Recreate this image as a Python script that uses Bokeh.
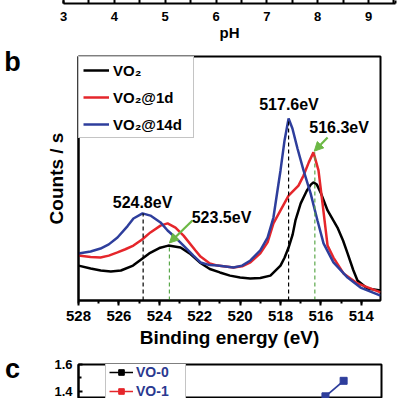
import numpy as np
from bokeh.plotting import figure
from bokeh.models import (Range1d, SingleIntervalTicker, FixedTicker, Arrow, Plot,
                          NormalHead, Legend, LegendItem, ColumnDataSource, LinearAxis)
from bokeh.layouts import column, row
from bokeh.core.properties import value
from bokeh.embed import file_html
from bokeh.resources import INLINE

FONT = "Liberation Sans"
BLACK = "#000000"
RED = "#e5262b"
BLUE = "#2e3e9c"
GREEN = "#6cb845"
GREEN_DASH = "#5aa84a"

# ---------------- panel a (only its pH axis is visible) ----------------
ph_ticks = [3, 4, 5, 6, 7, 8, 9]
ph_minor_ticks = [3.5, 4.5, 5.5, 6.5, 7.5, 8.5, 9.5]

# ---------------- panel b : XPS V2p spectra ----------------
vo2_e = [528.0, 527.4, 526.9, 526.4, 525.9, 525.3, 524.9, 524.5, 524.0, 523.55,
         522.95, 522.5, 522.0, 521.5, 521.0, 520.5, 520.0, 519.5, 519.0, 518.5,
         518.0, 517.8, 517.6, 517.4, 517.26, 517.0, 516.7, 516.5, 516.37, 516.2,
         516.0, 515.67, 515.4, 515.18, 514.9, 514.68, 514.4, 514.19, 513.7, 513.05]
vo2_c = [14.3, 13.1, 12.3, 11.9, 12.3, 14.3, 16.8, 19.3, 21.5, 22.5,
         21.7, 19.3, 15.6, 12.9, 11.5, 10.2, 9.4, 9.0, 9.2, 10.2,
         14.3, 17.5, 21.7, 27.0, 32.8, 39.8, 45.0, 47.5, 48.4, 47.5,
         44.0, 36.9, 33.0, 29.9, 24.5, 19.3, 12.5, 8.2, 4.9, 4.1]

vo2_1d_e = [528.0, 527.4, 526.91, 526.5, 526.07, 525.68, 525.28, 524.85, 524.44, 523.94,
            523.59, 523.2, 522.8, 522.21, 521.96, 521.5, 521.12, 520.33, 519.9, 519.49,
            519.0, 518.64, 518.35, 518.0, 517.6, 517.11, 516.86, 516.6, 516.37, 516.12,
            515.92, 515.67, 515.38, 514.88, 514.19, 513.05]
vo2_1d_c = [18.4, 17.8, 17.6, 18.4, 19.7, 21.0, 22.5, 25.0, 27.9, 30.7,
            31.6, 29.9, 26.6, 20.5, 18.0, 15.2, 14.3, 13.5, 14.0, 15.6,
            19.3, 23.8, 31.6, 36.9, 43.0, 47.1, 51.2, 56.6, 60.7, 53.3,
            39.8, 22.5, 17.6, 11.1, 7.0, 3.3]

vo2_14d_e = [528.0, 527.4, 526.91, 526.5, 526.07, 525.57, 525.28, 524.83, 524.44, 523.94,
             523.59, 523.2, 522.8, 522.31, 521.96, 521.5, 521.12, 520.33, 519.9, 519.49,
             519.0, 518.64, 518.35, 518.15, 518.0, 517.8, 517.6, 517.41, 517.16, 516.86,
             516.51, 516.17, 515.87, 515.38, 514.68, 514.04, 513.05]
vo2_14d_c = [19.3, 20.1, 21.3, 23.0, 25.8, 30.5, 33.6, 35.7, 34.8, 32.0,
             28.7, 25.8, 22.5, 18.4, 15.6, 14.5, 14.3, 13.5, 14.3, 16.4,
             20.5, 25.8, 34.0, 45.1, 53.3, 65.6, 74.6, 70.5, 62.3, 53.3,
             43.9, 32.8, 23.4, 15.6, 9.4, 5.3, 2.0]

# marked peak positions (black dashed: VO2@14d peaks, green dashed: VO2 / VO2@1d peaks)
black_peak_e = [524.8, 517.6]
black_peak_top = [35.7, 74.6]
green_peak_e = [523.5, 516.3]
green_peak_top = [22.5, 60.7]

peak_label_text = ["524.8eV", "523.5eV", "517.6eV", "516.3eV"]
peak_label_e = [524.83, 520.92, 517.58, 515.1]
peak_label_c = [40.2, 34.0, 80.3, 70.7]

arrow_x0 = [522.36, 515.67]
arrow_y0 = [32.8, 66.8]
arrow_x1 = [523.5, 516.33]
arrow_y1 = [23.6, 61.2]

# ---------------- panel c (only its top is visible) ----------------
c_ticks = [1.4, 1.6]
c_minor = [1.5]
vo0_x = [np.nan]          # VO-0 / VO-1 points lie below the visible part
vo0_y = [np.nan]
vo1_x = [np.nan]
vo1_y = [np.nan]
vo2_series_x = [9.78, 10.5]
vo2_series_y = [1.364, 1.479]

# panel letters
panel_letters = ["b", "c"]

W = 398
LW = 22   # width of the strip carrying the panel letter
HAS_FA = "frame_align" in Plot.properties()


def style_common(p):
    p.background_fill_color = "white"
    p.border_fill_color = "white"
    p.grid.visible = False
    if HAS_FA:
        p.frame_align = False


def letter_strip(letter, height, y_from_top):
    f = figure(width=LW, height=height, x_range=Range1d(0, LW), y_range=Range1d(height, 0),
               output_backend="svg", toolbar_location=None, min_border=0,
               x_axis_location=None, y_axis_location=None)
    style_common(f)
    f.outline_line_color = None
    f.text(x=[12], y=[y_from_top], text=[letter], text_font=value(FONT),
           text_font_style="bold", text_font_size="27px", text_align="center",
           text_baseline="middle", text_color="black")
    return f


# ===== panel a =====
if HAS_FA:
    a_left, a_right, a_range = 63, 3, (3, 9.531)
else:
    a_left, a_right, a_range = 78, 18, (2.705, 9.236)
pa = figure(width=W, height=48, x_range=Range1d(*a_range), y_range=Range1d(0, 1),
            output_backend="svg", toolbar_location=None,
            min_border_left=a_left, min_border_right=a_right, min_border_top=0,
            min_border_bottom=45)
style_common(pa)
pa.outline_line_color = None
ax = pa.xaxis[0]
ax.ticker = FixedTicker(ticks=ph_ticks, minor_ticks=ph_minor_ticks)
ax.axis_line_width = 2
ax.major_tick_line_width = 2
ax.minor_tick_line_width = 2
ax.major_tick_out = 0
ax.major_tick_in = 6
ax.minor_tick_out = 0
ax.minor_tick_in = 6
ax.major_label_standoff = 8
ax.major_label_text_font = FONT
ax.major_label_text_font_style = "bold"
ax.major_label_text_font_size = "13px"
ax.major_label_text_color = "black"
ax.axis_label = "pH"
ax.axis_label_text_font = FONT
ax.axis_label_text_font_style = "bold"
ax.axis_label_text_font_size = "15px"
ax.axis_label_text_color = "black"
ax.axis_label_standoff = 0
ya = pa.yaxis[0]
ya.ticker = FixedTicker(ticks=[])
ya.axis_line_width = 2
ya.major_label_text_font_size = "0px"
pa.add_layout(LinearAxis(ticker=FixedTicker(ticks=[]), axis_line_width=2,
                         major_label_text_font_size="0px"), "right")

# ===== panel b =====
HB = 302
pb = figure(width=W - LW, height=HB, x_range=Range1d(528, 513.05), y_range=Range1d(0, 100),
            output_backend="svg", toolbar_location=None,
            min_border_left=78 - LW, min_border_right=18, min_border_top=8, min_border_bottom=50)
style_common(pb)
pb.outline_line_color = "black"
pb.outline_line_width = 2

xb = pb.xaxis[0]
xb.ticker = SingleIntervalTicker(interval=2, num_minor_ticks=2)
xb.axis_line_width = 2
xb.major_tick_line_width = 2
xb.minor_tick_line_width = 2
xb.major_tick_in = 0
xb.major_tick_out = 5
xb.minor_tick_in = 0
xb.minor_tick_out = 3
xb.major_label_standoff = 5
xb.major_label_text_font = FONT
xb.major_label_text_font_style = "bold"
xb.major_label_text_font_size = "15px"
xb.major_label_text_color = "black"
xb.axis_label = "Binding energy (eV)"
xb.axis_label_text_font = FONT
xb.axis_label_text_font_style = "bold"
xb.axis_label_text_font_size = "19px"
xb.axis_label_text_color = "black"
xb.axis_label_standoff = 3

yb = pb.yaxis[0]
yb.ticker = FixedTicker(ticks=[])
yb.axis_line_width = 2
yb.major_tick_line_color = None
yb.minor_tick_line_color = None
yb.axis_label = "Counts / s"
yb.axis_label_text_font = FONT
yb.axis_label_text_font_style = "bold"
yb.axis_label_text_font_size = "19px"
yb.axis_label_text_color = "black"
yb.axis_label_standoff = 12

r0 = pb.line(vo2_e, vo2_c, line_color=BLACK, line_width=2.5)
r1 = pb.line(vo2_1d_e, vo2_1d_c, line_color=RED, line_width=2.5)
r2 = pb.line(vo2_14d_e, vo2_14d_c, line_color=BLUE, line_width=2.5)

pb.segment(x0=black_peak_e, y0=[0] * len(black_peak_e), x1=black_peak_e, y1=black_peak_top,
           line_color="black", line_width=1.2, line_dash="4 3")
pb.segment(x0=green_peak_e, y0=[0] * len(green_peak_e), x1=green_peak_e, y1=green_peak_top,
           line_color=GREEN_DASH, line_width=1.2, line_dash="4 3")

arr_src = ColumnDataSource(dict(x0=arrow_x0, y0=arrow_y0, x1=arrow_x1, y1=arrow_y1))
pb.add_layout(Arrow(source=arr_src, x_start="x0", y_start="y0", x_end="x1", y_end="y1",
                    line_color=GREEN, line_width=2.2,
                    end=NormalHead(size=9, fill_color=GREEN, line_color=GREEN)))

pb.text(x=peak_label_e, y=peak_label_c, text=peak_label_text, text_font=value(FONT),
        text_font_style="bold", text_font_size="16px", text_align="center",
        text_baseline="middle", text_color="black")

leg_b = Legend(items=[LegendItem(label="VO₂", renderers=[r0]),
                      LegendItem(label="VO₂@1d", renderers=[r1]),
                      LegendItem(label="VO₂@14d", renderers=[r2])],
               location="top_left", margin=0, padding=4, spacing=9,
               glyph_width=26, glyph_height=18, label_height=18, label_width=76,
               label_standoff=4, label_text_font=FONT, label_text_font_style="bold",
               label_text_font_size="15px", label_text_color="black",
               border_line_color="#8a8a8a", border_line_width=1,
               background_fill_color="white", background_fill_alpha=1)
pb.add_layout(leg_b)

# ===== panel c =====
HC = 48
pc = figure(width=W - LW, height=HC, x_range=Range1d(0, 12), y_range=Range1d(1.348, 1.6),
            output_backend="svg", toolbar_location=None,
            min_border_left=78 - LW, min_border_right=17, min_border_top=14, min_border_bottom=0,
            x_axis_location=None)
style_common(pc)
pc.outline_line_color = "black"
pc.outline_line_width = 2
yc = pc.yaxis[0]
yc.ticker = FixedTicker(ticks=c_ticks, minor_ticks=c_minor)
yc.axis_line_width = 2
yc.major_tick_line_width = 2
yc.minor_tick_line_width = 2
yc.major_tick_in = 4
yc.major_tick_out = 0
yc.minor_tick_in = 3
yc.minor_tick_out = 0
yc.major_label_standoff = 6
yc.major_label_text_font = FONT
yc.major_label_text_font_style = "bold"
yc.major_label_text_font_size = "13px"
yc.major_label_text_color = "black"

cl0 = pc.line(np.array(vo0_x), np.array(vo0_y), line_color="black", line_width=1.5)
cm0 = pc.scatter(np.array(vo0_x), np.array(vo0_y), marker="square", size=5, color="black")
cl1 = pc.line(np.array(vo1_x), np.array(vo1_y), line_color=RED, line_width=1.5)
cm1 = pc.scatter(np.array(vo1_x), np.array(vo1_y), marker="square", size=9, color=RED)
pc.line(vo2_series_x, vo2_series_y, line_color=BLUE, line_width=1.8)
pc.scatter(vo2_series_x, vo2_series_y, marker="square", size=7, color=BLUE)

leg_c = Legend(items=[LegendItem(label="VO-0", renderers=[cl0, cm0]),
                      LegendItem(label="VO-1", renderers=[cl1, cm1])],
               location=(27, -5), margin=0, padding=3, spacing=3,
               glyph_width=24, glyph_height=14, label_height=14, label_width=46,
               label_standoff=3, label_text_font=FONT, label_text_font_style="bold",
               label_text_font_size="14px", label_text_color="#2a3990",
               border_line_color="#8a8a8a", border_line_width=1,
               background_fill_color="white", background_fill_alpha=1)
pc.add_layout(leg_c)

fb = letter_strip(panel_letters[0], HB, 61 - 48)
fc = letter_strip(panel_letters[1], HC, 368 - 350)

layout = column(pa, row(fb, pb, spacing=0), row(fc, pc, spacing=0), spacing=0)
open("out.html", "w").write(file_html(layout, INLINE))
